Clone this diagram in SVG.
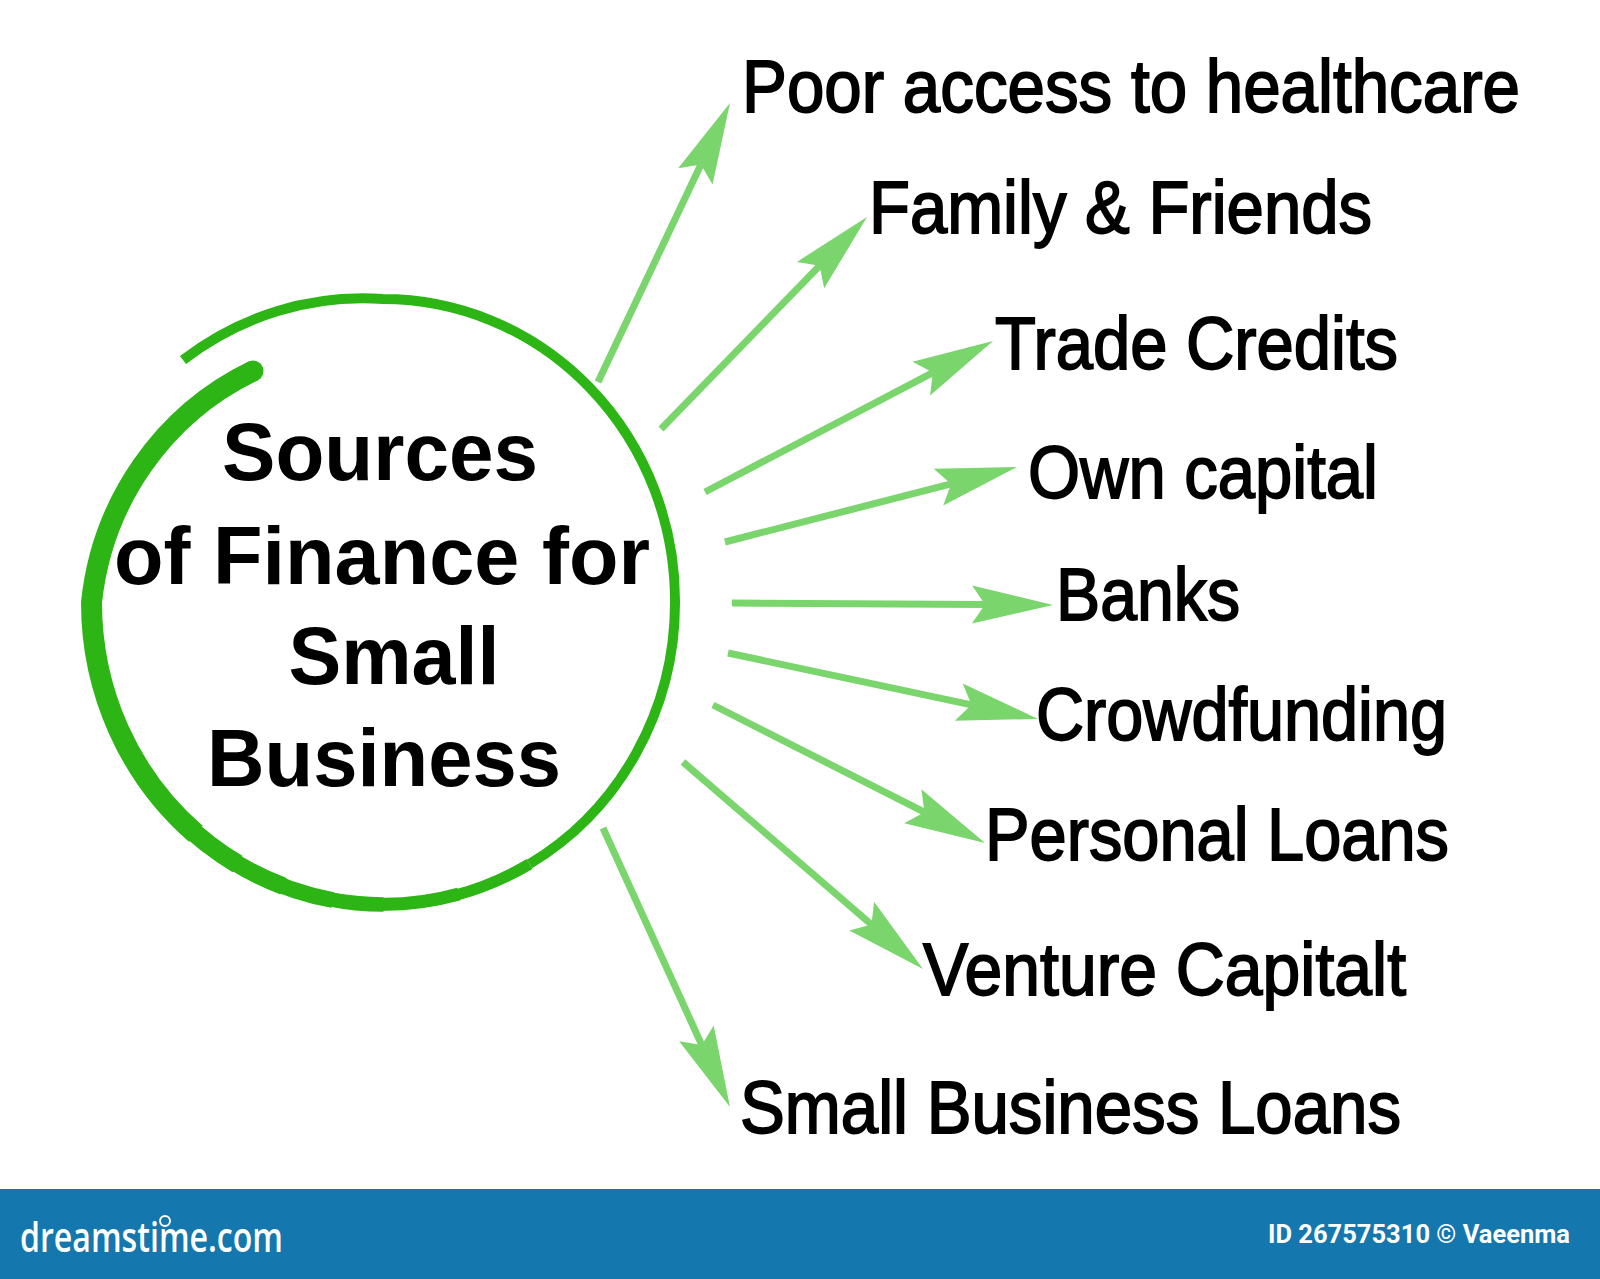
<svg xmlns="http://www.w3.org/2000/svg" width="1600" height="1279" viewBox="0 0 1600 1279">
<style>
.lbl{font-family:"Liberation Sans",Arial,sans-serif;font-size:74px;fill:#000;stroke:#000;stroke-width:1.8}
.ctr{font-family:"Liberation Sans",Arial,sans-serif;font-size:82px;font-weight:bold;fill:#000;text-anchor:middle}
.ring{fill:none;stroke:#2db516;stroke-linecap:butt}
.arr{stroke:#79d56c;stroke-width:7;fill:none;marker-end:url(#ah)}
</style>
<defs>
<marker id="ah" markerUnits="userSpaceOnUse" viewBox="-20 -25 95 50" markerWidth="95" markerHeight="50" refX="0" refY="0" orient="auto">
<path d="M68,0 L-13,-19 L0,0 L-13,19 Z" fill="#79d56c"/>
</marker>
</defs>
<rect width="1600" height="1279" fill="#fff"/>
<g id="center">
<path class="ring" stroke-width="10" stroke-linecap="round" d="M183,360 A300 310 0 0 1 383,299 A292 302 0 0 1 675,602 A292 302 0 0 1 529.5,864"/>
<path class="ring" stroke-width="11.5" d="M529.5,864 A292 302 0 0 1 91.5,602.5"/>
<path class="ring" stroke-width="13" d="M459,894 A292 302 0 0 1 91.5,602.5"/>
<path class="ring" stroke-width="14.5" d="M383.5,904.5 A292 302 0 0 1 91.5,602.5"/>
<path class="ring" stroke-width="16" d="M332.8,900 A292 302 0 0 1 91.5,602.5"/>
<path class="ring" stroke-width="17.5" d="M283.6,886.3 A292 302 0 0 1 91.5,602.5"/>
<path class="ring" stroke-width="19" d="M237.5,864 A292 302 0 0 1 91.5,602.5"/>
<path class="ring" stroke-width="21" d="M195.8,833.8 A292 302 0 0 1 91.5,602.5 A285 290 0 0 1 253,371"/>
<circle cx="253" cy="371" r="10.5" fill="#2db516"/>
<text class="ctr" x="380" y="480" textLength="316" lengthAdjust="spacingAndGlyphs">Sources</text>
<text class="ctr" x="382" y="584" textLength="536" lengthAdjust="spacingAndGlyphs">of Finance for</text>
<text class="ctr" x="394" y="684" textLength="211" lengthAdjust="spacingAndGlyphs">Small</text>
<text class="ctr" x="384" y="786" textLength="354" lengthAdjust="spacingAndGlyphs">Business</text>
</g>
<g id="connectors">
<line class="arr" x1="598" y1="382" x2="700.9" y2="164.5"/>
<line class="arr" x1="661" y1="429" x2="819.6" y2="265.8"/>
<line class="arr" x1="705" y1="492" x2="932.8" y2="372.6"/>
<line class="arr" x1="725" y1="542" x2="951.1" y2="483.9"/>
<line class="arr" x1="732" y1="603" x2="985" y2="604.6"/>
<line class="arr" x1="728" y1="653" x2="971.5" y2="704.8"/>
<line class="arr" x1="713" y1="705" x2="924.4" y2="812.2"/>
<line class="arr" x1="683" y1="762" x2="871.5" y2="924.6"/>
<line class="arr" x1="603" y1="828" x2="701.8" y2="1045.1"/>
</g>
<g id="n1"><text class="lbl" x="742" y="112" textLength="778" lengthAdjust="spacingAndGlyphs">Poor access to healthcare</text></g>
<g id="n2"><text class="lbl" x="869" y="233" textLength="503" lengthAdjust="spacingAndGlyphs">Family &amp; Friends</text></g>
<g id="n3"><text class="lbl" x="995" y="369" textLength="403" lengthAdjust="spacingAndGlyphs">Trade Credits</text></g>
<g id="n4"><text class="lbl" x="1028" y="498" textLength="350" lengthAdjust="spacingAndGlyphs">Own capital</text></g>
<g id="n5"><text class="lbl" x="1056" y="620" textLength="184" lengthAdjust="spacingAndGlyphs">Banks</text></g>
<g id="n6"><text class="lbl" x="1036" y="740" textLength="411" lengthAdjust="spacingAndGlyphs">Crowdfunding</text></g>
<g id="n7"><text class="lbl" x="985" y="860" textLength="464" lengthAdjust="spacingAndGlyphs">Personal Loans</text></g>
<g id="n8"><text class="lbl" x="923" y="995" textLength="483" lengthAdjust="spacingAndGlyphs">Venture Capitalt</text></g>
<g id="n9"><text class="lbl" x="740" y="1133" textLength="661" lengthAdjust="spacingAndGlyphs">Small Business Loans</text></g>
<g id="footer">
<rect x="0" y="1189" width="1600" height="90" fill="#1477ae"/>
<text x="20" y="1252" font-family="'Open Sans','Liberation Sans',sans-serif" font-size="42" font-weight="600" fill="#fff" textLength="263" lengthAdjust="spacingAndGlyphs">dreamstime.com</text>
<circle cx="165" cy="1221" r="5" fill="none" stroke="#fff" stroke-width="2"/>
<text x="1268" y="1243" font-family="Roboto,'Liberation Sans',sans-serif" font-size="25" font-weight="bold" fill="#fff" textLength="302" lengthAdjust="spacingAndGlyphs">ID 267575310 © Vaeenma</text>
</g>
</svg>
